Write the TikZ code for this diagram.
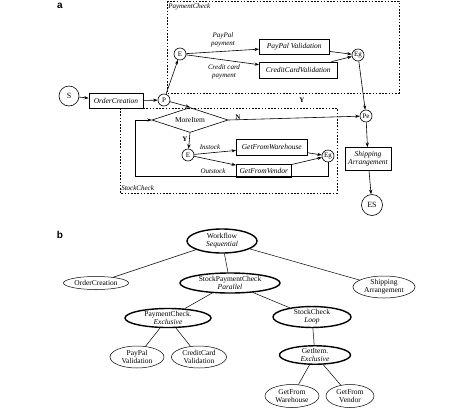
\documentclass[tikz,border=0pt]{standalone}
\usepackage{fontspec}
\setmainfont{Liberation Serif}
\setsansfont{Liberation Sans}
\usepackage{tikz}
\usetikzlibrary{arrows.meta,shapes.geometric}

\begin{document}
\begin{tikzpicture}[x=1pt,y=-1pt,>={Stealth[length=4.5pt,width=3.2pt]},
    font=\fontsize{7.5}{8}\selectfont,line width=0.6pt,
    task/.style={draw,rectangle,inner sep=1pt,font=\fontsize{7.5}{8}\selectfont\itshape,align=center},
    gate/.style={draw,circle,inner sep=0pt,minimum size=12pt,font=\fontsize{7}{7}\selectfont},
    region/.style={draw,line width=0.7pt,dash pattern=on 1.6pt off 1.6pt},
    lbl/.style={inner sep=0pt,font=\fontsize{7}{7.5}\selectfont\itshape,align=center},
    leaf/.style={draw,ellipse,line width=0.5pt,inner sep=0pt,align=center},
    comp/.style={leaf,line width=1.4pt},
    tag/.style={font=\fontsize{10}{10}\selectfont\sffamily\bfseries,anchor=base}]
    \useasboundingbox (0,0) rectangle (474,413);

    \node[tag] (taga) at (60,8) {a};
    \draw[region] (167,1) rectangle (399,93);
    \node[lbl,anchor=west] (pclab) at (168,7) {PaymentCheck};
    \draw[region] (120,108) rectangle (337,193);
    \node[lbl,anchor=south west] (sclab) at (121,191) {StockCheck};

    \node[gate,minimum size=20pt,font=\fontsize{8}{8}\selectfont] (S) at (69,96) {S};
    \node[task,minimum width=54pt,minimum height=15pt] (order) at (116,101) {OrderCreation};
    \node[gate] (P) at (164,100) {P};
    \node[gate] (E1) at (180,54) {E};
    \node[task,anchor=west,minimum width=70pt,minimum height=15pt] (paypal) at (259,47) {PayPal Validation};
    \node[task,anchor=west,minimum width=78pt,minimum height=16pt] (credit) at (259,70) {CreditCardValidation};
    \node[gate] (Eg1) at (358,55) {Eg};
    \node[gate] (Pe) at (366,116) {Pe};
    \node[draw,diamond,aspect=3,inner sep=1pt,minimum width=76pt,minimum height=25pt] (more) at (190,120) {MoreItem};
    \node[gate] (E2) at (188,155) {E};
    \node[task,anchor=west,minimum width=71pt,minimum height=16pt] (wh) at (236,147) {GetFromWarehouse};
    \node[task,anchor=west,minimum width=55pt,minimum height=13pt] (vend) at (236,171) {GetFromVendor};
    \node[gate] (Eg2) at (328,156) {Eg};
    \node[task,minimum width=46pt,minimum height=23pt] (ship) at (368,159) {Shipping\\Arrangement};
    \node[gate,minimum size=21pt,font=\fontsize{8}{8}\selectfont] (ES) at (372,205) {ES};
    \coordinate (back) at (135,176);

    \draw[->] (S) -- (order);
    \draw[->] (order) -- (P);
    \draw[->] (P) -- (E1);
    \draw[->] (E1) -- (paypal);
    \draw[->] (E1) -- (credit);
    \draw[->] (paypal) -- (Eg1);
    \draw[->] (credit) -- (Eg1);
    \draw[->] (Eg1) -- (Pe);
    \draw[->] (P) -- (more.north);
    \draw[->] (more.east) -- (Pe);
    \draw[->] (more.south) -- (E2);
    \draw[->] (E2) -- (wh);
    \draw[->] (E2) -- (vend);
    \draw[->] (wh) -- (Eg2);
    \draw[->] (vend) -- (Eg2);
    \draw[->] (Eg2) |- (back) |- (more.west);
    \draw[->] (Pe) -- (ship);
    \draw[->] (ship) -- (ES);

    \node[lbl] (ppay) at (223,40) {PayPal\\payment};
    \node[lbl] (cpay) at (224,72) {Credit card\\[1pt]payment};
    \node[lbl] (instock) at (210,147) {Instock};
    \node[lbl] (outstock) at (213,171) {Outstock};
    \node[inner sep=0pt,font=\fontsize{7}{7}\selectfont\bfseries] (yes1) at (302,100) {Y};
    \node[inner sep=0pt,font=\fontsize{7}{7}\selectfont\bfseries] (no) at (238,117) {N};
    \node[inner sep=0pt,font=\fontsize{7}{7}\selectfont\bfseries] (yes2) at (185,139) {Y};

    \node[tag] (tagb) at (60,238) {b};
    \node[comp,minimum width=70pt,minimum height=24pt] (wf) at (222,241) {Workflow\\\textit{Sequential}};
    \node[leaf,minimum width=65pt,minimum height=13pt] (toc) at (96,283) {OrderCreation};
    \node[comp,minimum width=100pt,minimum height=20pt] (tspc) at (230,283) {StockPaymentCheck\\\textit{Parallel}};
    \node[leaf,minimum width=62pt,minimum height=22pt] (tship) at (384,287) {Shipping\\Arrangement};
    \node[comp,minimum width=86pt,minimum height=19pt] (tpc) at (168,318) {PaymentCheck.\\\textit{Exclusive}};
    \node[comp,minimum width=78pt,minimum height=18pt] (tsc) at (312,317) {StockCheck\\\textit{Loop}};
    \node[leaf,minimum width=54pt,minimum height=22pt] (tpp) at (137,357) {PayPal\\Validation};
    \node[leaf,minimum width=55pt,minimum height=22pt] (tcc) at (199,357) {CreditCard\\Validation};
    \node[comp,minimum width=71pt,minimum height=18pt] (tgi) at (315,355) {GetItem.\\\textit{Exclusive}};
    \node[leaf,minimum width=54pt,minimum height=23pt] (tgw) at (292,396) {GetFrom\\Warehouse};
    \node[leaf,minimum width=48pt,minimum height=23pt] (tgv) at (350,396) {GetFrom\\Vendor};

    \draw[line width=0.5pt] (wf) -- (toc);
    \draw[line width=0.5pt] (wf) -- (tspc);
    \draw[line width=0.5pt] (wf) -- (tship);
    \draw[line width=0.5pt] (tspc) -- (tpc);
    \draw[line width=0.5pt] (tspc) -- (tsc);
    \draw[line width=0.5pt] (tpc) -- (tpp);
    \draw[line width=0.5pt] (tpc) -- (tcc);
    \draw[line width=0.5pt] (tsc) -- (tgi);
    \draw[line width=0.5pt] (tgi) -- (tgw);
    \draw[line width=0.5pt] (tgi) -- (tgv);
\end{tikzpicture}
\end{document}
